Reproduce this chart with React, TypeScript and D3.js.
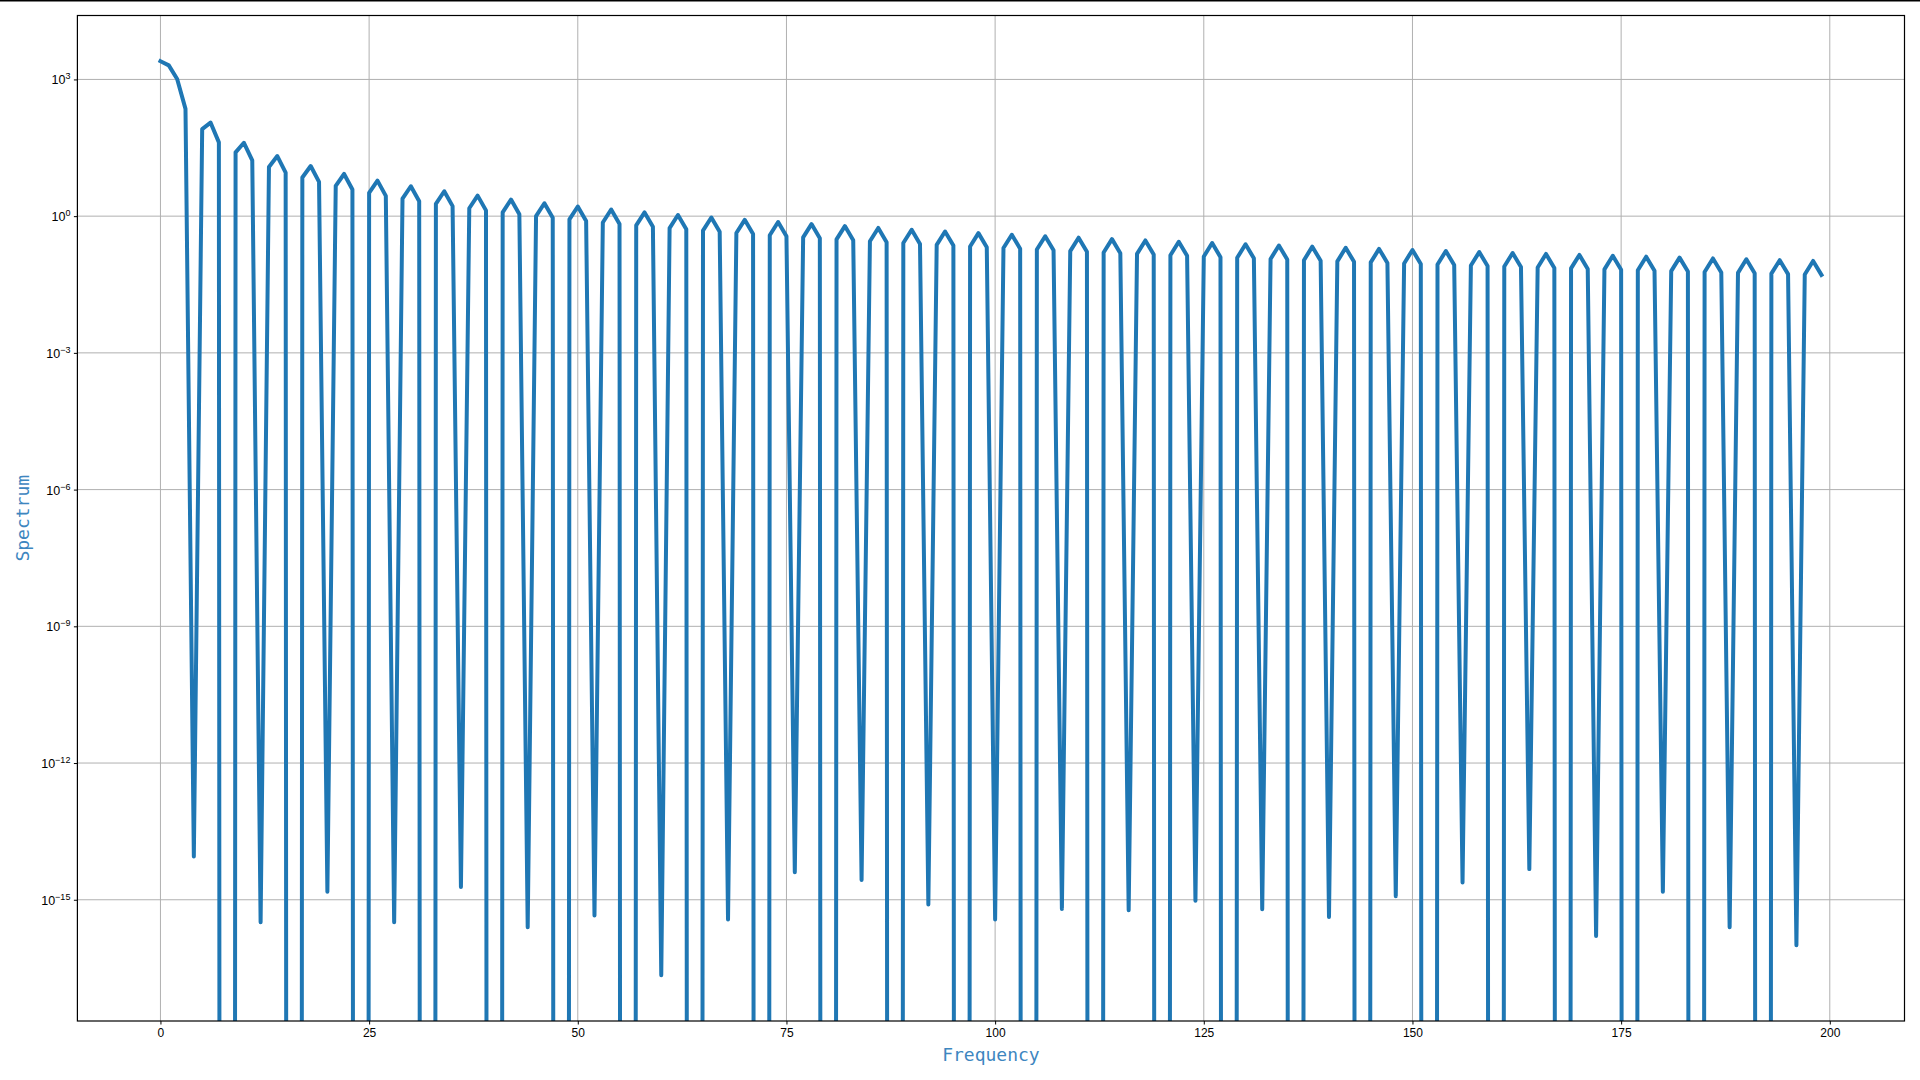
import React, { useEffect, useRef } from "react";
import * as d3 from "d3";

// frequency bins 0..199
const freq: number[] = d3.range(200);

// spectrum (0 = exact zero, falls below the axis)
const spectrum: number[] = [
	2512, 2036, 1018, 226, 8.9e-15, 81.4, 113, 41.6,
	0, 25.1, 40.7, 16.8, 3.2e-16, 12.0, 20.8, 9.05,
	0, 7.04, 12.6, 5.64, 1.5e-15, 4.62, 8.42, 3.85,
	0, 3.26, 6.03, 2.79, 3.2e-16, 2.42, 4.53, 2.12,
	0, 1.87, 3.52, 1.66, 1.9e-15, 1.49, 2.82, 1.34,
	0, 1.21, 2.31, 1.1, 2.5e-16, 1.005, 1.92, 0.922,
	0, 0.848, 1.63, 0.783, 4.5e-16, 0.725, 1.4, 0.673,
	0, 0.627, 1.21, 0.585, 2.2e-17, 0.547, 1.06, 0.513,
	0, 0.482, 0.935, 0.454, 3.7e-16, 0.428, 0.831, 0.404,
	0, 0.382, 0.744, 0.362, 4.0e-15, 0.343, 0.669, 0.326,
	0, 0.31, 0.606, 0.296, 2.7e-15, 0.282, 0.551, 0.269,
	0, 0.257, 0.503, 0.246, 7.9e-16, 0.235, 0.461, 0.226,
	0, 0.216, 0.424, 0.208, 3.7e-16, 0.2, 0.391, 0.192,
	0, 0.185, 0.362, 0.178, 6.3e-16, 0.171, 0.337, 0.165,
	0, 0.159, 0.313, 0.154, 5.9e-16, 0.149, 0.293, 0.144,
	0, 0.139, 0.274, 0.135, 9.5e-16, 0.13, 0.257, 0.126,
	0, 0.122, 0.241, 0.119, 6.2e-16, 0.115, 0.227, 0.112,
	0, 0.108, 0.214, 0.105, 4.2e-16, 0.102, 0.202, 0.0996,
	0, 0.0968, 0.191, 0.0942, 1.2e-15, 0.0917, 0.181, 0.0893,
	0, 0.087, 0.172, 0.0847, 2.4e-15, 0.0826, 0.163, 0.0805,
	0, 0.0785, 0.155, 0.0766, 4.7e-15, 0.0748, 0.148, 0.073,
	0, 0.0713, 0.141, 0.0696, 1.6e-16, 0.068, 0.135, 0.0665,
	0, 0.065, 0.129, 0.0635, 1.5e-15, 0.0621, 0.123, 0.0608,
	0, 0.0595, 0.118, 0.0582, 2.5e-16, 0.057, 0.113, 0.0558,
	0, 0.0547, 0.108, 0.0535, 1.0e-16, 0.0525, 0.104, 0.0514,
];

const xTicks = [0, 25, 50, 75, 100, 125, 150, 175, 200];
const yTickExps = [3, 0, -3, -6, -9, -12, -15];

const width = 1920;
const height = 1080;
const margin = { top: 15.5, right: 15.5, bottom: 59, left: 77.4 };

const lineColor = "#1f77b4";
const labelColor = "#3d86bf";
const tickFont = "'Liberation Sans Narrow', 'Liberation Sans', Arial, sans-serif";
const labelFont = "'DejaVu Sans Mono', monospace";

const SpectrumPlot: React.FC = () => {
	const ref = useRef<SVGSVGElement>(null);

	useEffect(() => {
		const svg = d3.select(ref.current);
		svg.selectAll("*").remove();

		const left = margin.left;
		const right = width - margin.right;
		const top = margin.top;
		const bottom = height - margin.bottom;

		// matplotlib-like 5% autoscale margins
		const [x0, x1] = d3.extent(freq) as [number, number];
		const xPad = (x1 - x0) * 0.05;
		const x = d3.scaleLinear().domain([x0 - xPad, x1 + xPad]).range([left, right]);

		const positive = spectrum.filter((v) => v > 0);
		const lo = Math.log10(d3.min(positive) as number);
		const hi = Math.log10(d3.max(positive) as number);
		const yPad = (hi - lo) * 0.05;
		const y = d3
			.scaleLog()
			.domain([Math.pow(10, lo - yPad), Math.pow(10, hi + yPad)])
			.range([bottom, top]);

		svg.append("rect").attr("width", width).attr("height", height).attr("fill", "#fff");
		svg.append("rect").attr("width", width).attr("height", 1.5).attr("fill", "#000");

		svg
			.append("defs")
			.append("clipPath")
			.attr("id", "plot-clip")
			.append("rect")
			.attr("x", left)
			.attr("y", top)
			.attr("width", right - left)
			.attr("height", bottom - top);

		// grid
		const grid = svg.append("g").attr("stroke", "#b0b0b0").attr("stroke-width", 1);
		xTicks.forEach((t) => {
			grid.append("line").attr("x1", x(t)).attr("x2", x(t)).attr("y1", top).attr("y2", bottom);
		});
		yTickExps.forEach((e) => {
			const yy = y(Math.pow(10, e));
			grid.append("line").attr("x1", left).attr("x2", right).attr("y1", yy).attr("y2", yy);
		});

		// spectrum line
		const line = d3
			.line<number>()
			.x((_, i) => x(freq[i]))
			.y((v) => y(v > 0 ? v : 1e-300));

		svg
			.append("path")
			.datum(spectrum)
			.attr("clip-path", "url(#plot-clip)")
			.attr("d", line)
			.attr("fill", "none")
			.attr("stroke", lineColor)
			.attr("stroke-width", 4)
			.attr("stroke-linejoin", "round")
			.attr("stroke-linecap", "square");

		// x axis
		svg
			.append("g")
			.attr("transform", `translate(0,${bottom})`)
			.call(d3.axisBottom(x).tickValues(xTicks).tickSize(3.5).tickPadding(4).tickSizeOuter(0))
			.call((g) => g.select(".domain").remove())
			.call((g) =>
				g
					.selectAll("text")
					.attr("font-family", tickFont)
					.attr("font-size", 12)
					.attr("fill", "#000")
			);

		// y axis: ticks only, labels drawn with superscripts
		const yAxis = svg
			.append("g")
			.attr("transform", `translate(${left},0)`)
			.call(
				d3
					.axisLeft(y)
					.tickValues(yTickExps.map((e) => Math.pow(10, e)))
					.tickSize(3.5)
					.tickFormat(() => "")
					.tickSizeOuter(0)
			)
			.call((g) => g.select(".domain").remove());

		yTickExps.forEach((e) => {
			const t = yAxis
				.append("text")
				.attr("x", -7)
				.attr("y", y(Math.pow(10, e)) + 5)
				.attr("text-anchor", "end")
				.attr("font-family", tickFont)
				.attr("font-size", 12.5)
				.attr("fill", "#000");
			t.append("tspan").text("10");
			t.append("tspan")
				.attr("dy", -5)
				.attr("font-size", 9)
				.text(e < 0 ? `\u2212${-e}` : `${e}`);
		});

		// spines
		svg
			.append("rect")
			.attr("x", left)
			.attr("y", top)
			.attr("width", right - left)
			.attr("height", bottom - top)
			.attr("fill", "none")
			.attr("stroke", "#000")
			.attr("stroke-width", 1.2);

		// axis labels
		svg
			.append("text")
			.attr("x", (left + right) / 2)
			.attr("y", 1061)
			.attr("text-anchor", "middle")
			.attr("font-family", labelFont)
			.attr("font-size", 18)
			.attr("fill", labelColor)
			.text("Frequency");

		svg
			.append("text")
			.attr("transform", `translate(29,${(top + bottom) / 2}) rotate(-90)`)
			.attr("text-anchor", "middle")
			.attr("font-family", labelFont)
			.attr("font-size", 18)
			.attr("fill", labelColor)
			.text("Spectrum");
	}, []);

	return (
		<svg
			ref={ref}
			width={width}
			height={height}
			viewBox={`0 0 ${width} ${height}`}
			style={{ position: "fixed", left: 0, top: 0, display: "block" }}
		/>
	);
};

export default function App() {
	return <SpectrumPlot />;
}
